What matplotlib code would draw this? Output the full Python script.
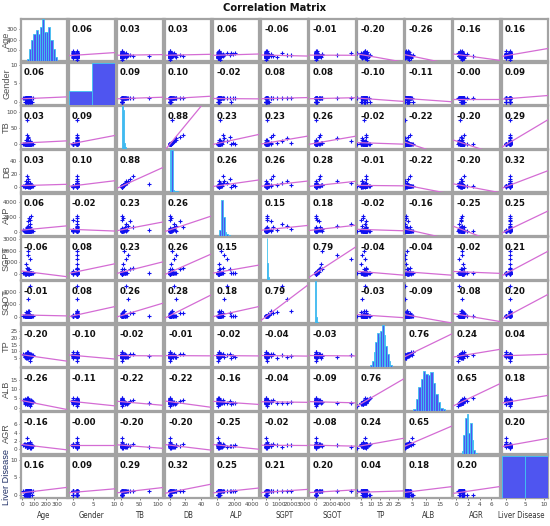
import numpy as np
import matplotlib
matplotlib.use('Agg')
import matplotlib.pyplot as plt
from matplotlib import font_manager as fm

# ---------------- data ----------------
names = ['Age', 'Gender', 'TB', 'DB', 'ALP', 'SGPT', 'SGOT', 'TP', 'ALB', 'AGR', 'Liver Disease']

age = [65,62,62,58,72,46,26,29,17,55,57,72,64,74,61,25,38,33,40,51,42,40,60,48,22,35,45,50,32,66,39,30,44,37,55,68,49,38,70,48,60,18,85,90,4,34,54,63,47,42,75,36,58,31,19,42,68,41,50,45,55,27]
gender = [0,1,1,1,1,1,0,0,1,1,1,1,1,0,1,1,1,1,0,1,1,1,1,0,1,1,1,1,1,1,1,1,1,1,1,0,1,1,1,1,1,0,0,1,1,1,1,1,0,1,1,1,0,1,1,1,1,1,0,1,1,1]
tb = [0.7,10.9,7.3,1.0,3.9,1.8,0.9,0.9,0.9,0.7,0.6,2.7,0.9,1.1,0.7,0.6,1.8,1.6,0.9,2.2,75.0,14.5,0.8,0.8,1.1,2.9,23.3,8.6,12.7,11.3,1.9,1.3,1.9,0.8,0.8,0.6,0.6,30.5,1.2,5.8,5.7,0.8,1.0,1.1,0.9,4.1,1.4,0.9,2.7,8.9,1.0,0.8,0.8,0.8,1.4,0.8,0.7,0.9,0.7,18.4,4.2,1.2]
db = [0.1,5.5,4.1,0.4,2.0,0.7,0.2,0.3,0.3,0.2,0.1,1.3,0.3,0.4,0.2,0.1,0.8,0.5,0.3,1.0,3.6,6.4,0.2,0.2,0.3,1.3,12.8,4.0,8.4,5.6,0.9,0.4,0.6,0.2,0.2,0.1,0.1,17.1,0.4,3.0,2.8,0.2,0.3,0.3,0.2,2.0,0.7,0.2,1.3,4.5,0.3,0.2,0.2,0.2,0.8,0.2,0.2,0.2,0.2,8.8,1.9,0.4]
alp = [187,699,490,182,195,208,154,202,202,290,210,260,310,214,145,183,342,165,293,610,332,358,215,218,138,482,1550,298,190,1110,180,482,298,205,225,1620,218,718,2110,450,214,282,208,215,348,289,195,194,275,272,150,158,130,158,178,127,145,169,196,850,1896,179]
sgpt = [16,64,60,14,27,19,16,14,22,53,51,31,61,22,53,91,168,15,232,17,40,50,24,15,14,22,425,58,28,1250,42,102,378,31,14,95,50,521,47,2000,412,72,17,46,30,875,36,52,123,31,25,29,24,21,13,29,36,22,30,1680,80,63]
sgot = [18,100,68,20,59,14,12,11,19,58,59,56,58,30,41,53,441,23,245,28,66,75,17,20,21,34,511,138,47,4929,62,80,602,36,23,127,53,562,56,946,850,140,15,134,34,731,16,45,73,61,38,39,25,16,26,30,32,18,20,2946,96,39]
tp = [6.8,7.5,7.0,6.8,7.3,7.6,7.0,6.7,7.4,6.8,5.9,7.4,7.0,8.1,5.8,5.5,7.6,7.3,6.8,7.3,6.2,5.7,6.3,6.2,7.0,7.0,7.7,5.8,5.4,7.0,7.4,6.9,6.6,9.2,6.1,4.6,5.0,7.6,5.7,6.3,7.3,5.5,7.0,6.9,8.0,5.0,7.9,6.0,6.2,5.8,6.2,6.0,7.0,6.0,8.0,4.9,2.7,7.1,9.6,5.4,6.0,6.1]
alb = [3.3,3.2,3.3,3.4,2.4,4.4,3.5,3.6,4.1,3.4,2.7,3.0,3.4,4.1,2.7,2.3,4.4,3.5,3.1,2.6,2.5,2.1,3.0,3.1,3.8,2.4,3.5,2.4,2.6,2.4,4.3,3.3,3.3,4.6,3.3,2.1,2.4,4.4,2.7,3.1,3.2,2.5,3.6,3.0,4.0,2.7,3.7,3.9,3.3,2.0,2.6,2.2,4.0,3.0,4.6,2.7,0.9,5.2,5.5,2.6,2.8,3.3]
agr = [0.90,0.74,0.89,1.00,0.40,1.30,1.00,1.10,1.20,1.00,0.80,0.60,0.90,1.00,0.87,0.70,1.30,0.92,0.80,0.55,0.60,0.50,0.90,1.00,1.10,0.50,0.80,0.70,0.90,0.50,1.38,0.90,1.00,1.00,1.20,0.80,0.90,1.30,0.90,1.00,0.78,0.80,1.00,0.70,1.00,1.10,0.90,1.85,1.10,0.50,0.72,0.50,1.33,1.00,1.28,1.20,0.30,2.80,1.30,0.90,0.87,1.10]
liver = [1,1,1,1,1,1,1,1,0,1,1,1,0,1,1,0,1,0,1,1,1,1,0,0,0,1,1,1,1,1,1,1,1,0,0,1,1,1,1,1,1,1,0,1,1,1,0,0,1,1,1,0,0,1,1,1,1,0,0,1,1,0]

# correlation coefficients as printed in the panels
corr = [
    [ 1.00, 0.06, 0.03, 0.03, 0.06,-0.06,-0.01,-0.20,-0.26,-0.16, 0.16],
    [ 0.06, 1.00, 0.09, 0.10,-0.02, 0.08, 0.08,-0.10,-0.11,-0.00, 0.09],
    [ 0.03, 0.09, 1.00, 0.88, 0.23, 0.23, 0.26,-0.02,-0.22,-0.20, 0.29],
    [ 0.03, 0.10, 0.88, 1.00, 0.26, 0.26, 0.28,-0.01,-0.22,-0.20, 0.32],
    [ 0.06,-0.02, 0.23, 0.26, 1.00, 0.15, 0.18,-0.02,-0.16,-0.25, 0.25],
    [-0.06, 0.08, 0.23, 0.26, 0.15, 1.00, 0.79,-0.04,-0.04,-0.02, 0.21],
    [-0.01, 0.08, 0.26, 0.28, 0.18, 0.79, 1.00,-0.03,-0.09,-0.08, 0.20],
    [-0.20,-0.10,-0.02,-0.01,-0.02,-0.04,-0.03, 1.00, 0.76, 0.24, 0.04],
    [-0.26,-0.11,-0.22,-0.22,-0.16,-0.04,-0.09, 0.76, 1.00, 0.65, 0.18],
    [-0.16,-0.00,-0.20,-0.20,-0.25,-0.02,-0.08, 0.24, 0.65, 1.00, 0.20],
    [ 0.16, 0.09, 0.29, 0.32, 0.25, 0.21, 0.20, 0.04, 0.18, 0.20, 1.00],
]

# diagonal histograms: bin range (in column units) and bar heights (% of panel height)
hist_lo = [40, -1.0, 2.4, 0.3, 250, 44, -150, 9.9, 5.5, 0.94, -1.3]
hist_hi = [295, 10.3, 13.9, 10.8, 1490, 250, 250, 21.6, 17.0, 3.5, 11.1]
hist_h = [
    [5, 30, 50, 65, 75, 65, 80, 100, 70, 70, 80, 50, 30, 10],
    [34, 100],
    [100, 92, 12, 4],
    [100, 100, 5, 4, 3, 2],
    [15, 85, 45, 10, 5, 2],
    [98, 40, 6],
    [100, 15, 3],
    [4, 15, 35, 60, 80, 70, 85, 100, 75, 50, 30, 15, 5],
    [5, 28, 55, 75, 95, 88, 85, 92, 65, 40, 20, 7, 3],
    [8, 45, 85, 95, 50, 75, 35, 10, 3],
    [100, 100],
]

# axis ranges and ticks
xlims = [(-17, 383), (-1.07, 10.3), (-13, 115), (-6, 53), (-460, 4870), (-400, 3300),
         (-940, 5650), (2.8, 28), (2.6, 19.5), (-0.5, 7.5), (-1.3, 11.1)]
ylims = [(-11, 400), (-0.9, 10.5), (-13, 118), (-9, 58), (-450, 5050), (-520, 3180),
         (-1100, 5800), (-2, 30), (-1.5, 21), (-1.25, 9.0), (-1, 11.3)]
xticks = [[0, 100, 200, 300], [0, 5, 10], [0, 50, 100], [0, 20, 40], [0, 2000, 4000],
          [0, 1000, 2000, 3000], [0, 2000, 4000], [5, 10, 15, 20, 25], [5, 10, 15],
          [0, 2, 4, 6], [0, 5, 10]]
yticks = [[100, 200, 300], [0, 5, 10], [0, 50, 100], [0, 20, 40], [0, 2000, 4000],
          [0, 1000, 2000, 3000], [0, 2000, 4000], [5, 10, 15, 20, 25], [0, 5, 10, 15],
          [0, 2, 4, 6], [0, 5, 10]]

data = [np.asarray(v, dtype=float) for v in
        (age, gender, tb, db, alp, sgpt, sgot, tp, alb, agr, liver)]


# ---------------- fonts: prefer a narrow sans if one is installed ----------------
def _wnum(w):
    if isinstance(w, (int, float)):
        return int(w)
    return {'normal': 400, 'regular': 400, 'book': 400, 'medium': 500,
            'semibold': 600, 'demibold': 600, 'bold': 700, 'heavy': 800,
            'black': 900, 'light': 300}.get(str(w).lower(), 400)


def find_narrow(bold):
    prefs = ['Liberation Sans Narrow', 'Arial Narrow', 'DejaVu Sans', 'Roboto Condensed',
             'Open Sans Condensed', 'Noto Sans', 'Open Sans', 'Roboto']
    best = None
    for pref in prefs:
        for f in fm.fontManager.ttflist:
            cond = ('Narrow' in f.name or 'Condensed' in f.name or
                    str(f.stretch).lower() in ('condensed', 'semi-condensed',
                                               'extra-condensed'))
            if f.name == pref and cond and f.style == 'normal':
                isb = _wnum(f.weight) >= 600
                if isb == bold:
                    return fm.FontProperties(fname=f.fname)
                if best is None:
                    best = f.fname
        if best:
            return fm.FontProperties(fname=best)
    return None


fp_bold = find_narrow(True)
fp_reg = find_narrow(False)


def fprops(size, bold=False):
    fp = fp_bold if bold else fp_reg
    if fp is None:
        p = fm.FontProperties(family=['Liberation Sans', 'DejaVu Sans'], size=size,
                              weight='bold' if bold else 'normal')
    else:
        p = fp.copy()
        p.set_size(size)
    return p


FRAME = '#a3a3a3'
PT = '#1010f0'
LINE = '#d46cd4'
FACE = '#4f55f0'
EDGE = '#3ec4f0'
narrow_ok = fp_reg is not None

n = len(names)
fig, axes = plt.subplots(n, n, figsize=(5.5, 5.26), dpi=100)
fig.subplots_adjust(left=0.0373, right=0.9964, top=0.9639, bottom=0.0532,
                    wspace=0.035, hspace=0.035)

tick_fp = fprops(4.6 if narrow_ok else 4.3)
corr_fp = fprops(6.8 if narrow_ok else 6.0, bold=True)

for i in range(n):
    for j in range(n):
        ax = axes[i, j]
        ax.set_xlim(*xlims[j])
        ax.set_ylim(*ylims[i])
        for s in ax.spines.values():
            s.set_color(FRAME)
            s.set_linewidth(1.6)
        ax.set_xticks(xticks[j])
        ax.set_yticks(yticks[i])
        ax.tick_params(axis='x', labelbottom=(i == n - 1), length=1.2 if i == n - 1 else 0,
                       pad=1.5, colors='#444444', width=0.5)
        ax.tick_params(axis='y', labelleft=(j == 0), length=1.2 if j == 0 else 0,
                       pad=1, colors='#444444', width=0.5)
        for lab in ax.get_xticklabels() + ax.get_yticklabels():
            lab.set_fontproperties(tick_fp)
        if i == j:
            tw = ax.twinx()
            tw.set_ylim(0, 100)
            tw.set_yticks([])
            for s in tw.spines.values():
                s.set_visible(False)
            h = np.asarray(hist_h[i], dtype=float)
            edges = np.linspace(hist_lo[i], hist_hi[i], len(h) + 1)
            tw.bar(edges[:-1], h, width=np.diff(edges), align='edge',
                   color=FACE, edgecolor=EDGE, linewidth=0.6)
        else:
            x = data[j]
            y = data[i]
            ax.plot(x, y, linestyle='none', marker='+', ms=2.6, mew=0.8, color=PT, zorder=3)
            r = corr[i][j]
            slope = r * y.std() / x.std()
            icpt = y.mean() - slope * x.mean()
            xs = np.array(xlims[j])
            ax.plot(xs, icpt + slope * xs, color=LINE, lw=0.9, zorder=4)
            ax.text(0.07, 0.76, f'{r:.2f}', transform=ax.transAxes,
                    fontproperties=corr_fp, ha='left', va='center', color='#111111')

# row and column labels
col_fp = fprops(5.6 if narrow_ok else 5.0)
for k in range(n):
    pos = axes[k, 0].get_position()
    yc = (pos.y0 + pos.y1) / 2
    col = '#1f2f66' if k == n - 1 else '#505050'
    fig.text(6.5 / 550, yc, names[k], rotation=90, ha='center', va='center',
             fontsize=6.6, color=col, family=['Liberation Sans', 'DejaVu Sans'])
    posx = axes[n - 1, k].get_position()
    xc = min((posx.x0 + posx.x1) / 2, 521 / 550)
    fig.text(xc, 1 - 515 / 526, names[k], ha='center', va='center',
             fontproperties=col_fp, color='#333333')

fig.text(0.5, 1 - 8 / 526, 'Correlation Matrix', ha='center', va='center',
         fontproperties=fprops(8.0 if narrow_ok else 7.4, bold=True), color='#111111')

fig.savefig('out.png', dpi=100)
